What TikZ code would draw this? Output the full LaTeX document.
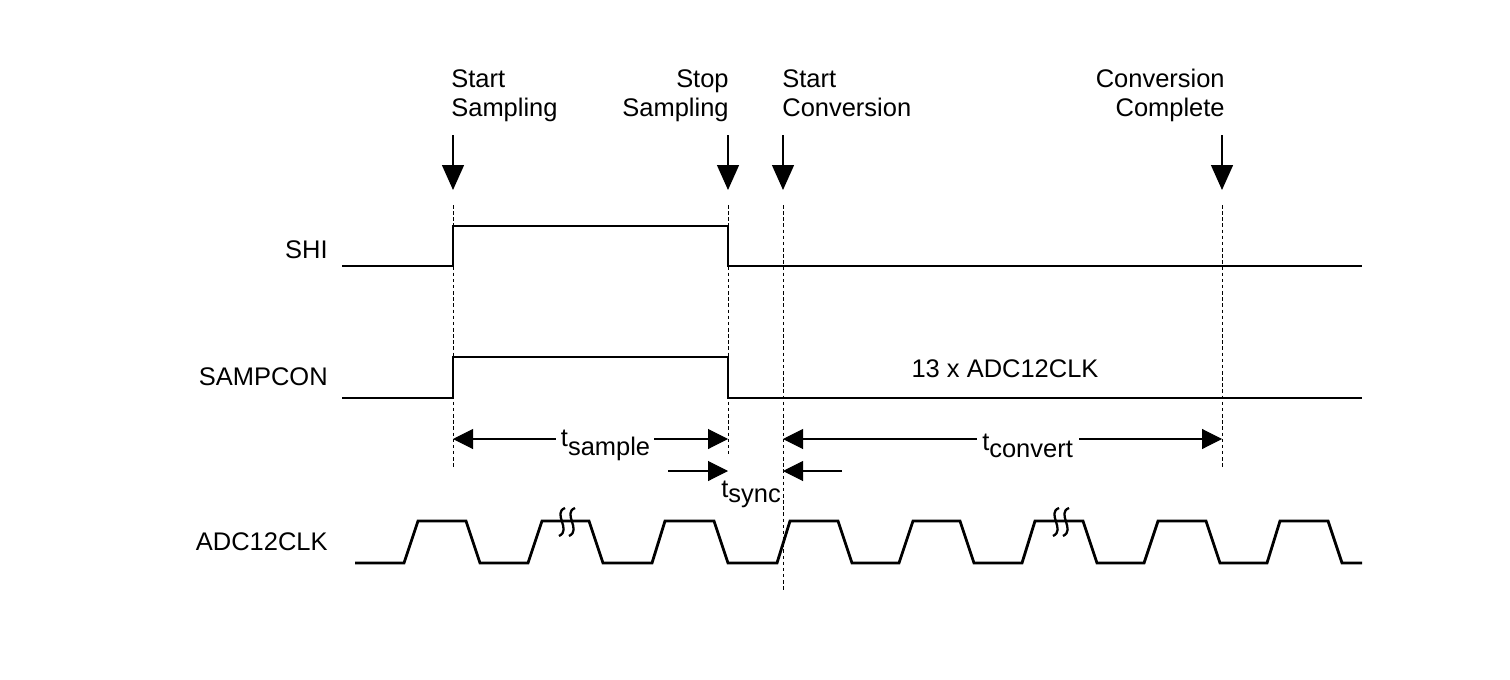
\documentclass[tikz,border=0pt]{standalone}
\usepackage{fontspec}
\setmainfont{Liberation Sans}
\usetikzlibrary{arrows.meta}
\begin{document}
\begin{tikzpicture}[x=0.02cm,y=-0.02cm,
  sig/.style={line width=1.6pt,line join=miter},
  guide/.style={dashed,line width=0.5pt,dash pattern=on 2pt off 1.5pt},
  evt/.style={line width=0.8pt,-{Triangle[length=0.5cm,width=0.44cm]}},
  dim/.style={line width=0.6pt,-{Triangle[length=0.4cm,width=0.4cm]}},
  lbl/.style={font=\fontsize{14.5}{16.5}\selectfont,inner sep=0pt,align=left},
  txt/.style={font=\fontsize{14.5}{17}\selectfont,inner sep=0pt}]
\useasboundingbox (0,0) rectangle (1510,679);
% guides
\draw[guide] (453,205) -- (453,467);
\draw[guide] (728,205) -- (728,455);
\draw[guide] (783,205) -- (783,590);
\draw[guide] (1222,205) -- (1222,467);
% event arrows
\foreach \n/\x in {a/453,b/728,c/783,d/1222}{
  \coordinate (\n0) at (\x,135); \coordinate (\n1) at (\x,190);
  \draw[evt] (\n0) -- (\n1);}
\node[lbl,anchor=north west] (lss) at (451,69) {Start\\Sampling};
\node[lbl,anchor=north east,align=right] (lsp) at (729,69) {Stop\\Sampling};
\node[lbl,anchor=north west] (lsc) at (782,69) {Start\\Conversion};
\node[lbl,anchor=north east,align=right] (lcc) at (1225,69) {Conversion\\Complete};
% signal names
\node[txt,anchor=base east] (nshi) at (328,258) {SHI};
\node[txt,anchor=base east] (nsam) at (328,385) {SAMPCON};
\node[txt,anchor=base east] (nclk) at (328,550) {ADC12CLK};
% SHI
\draw[sig] (342,266) -- (453,266) -- (453,226) -- (728,226) -- (728,266) -- (1362,266);
% SAMPCON
\draw[sig] (342,398) -- (453,398) -- (453,357) -- (728,357) -- (728,398) -- (1362,398);
\node[txt,anchor=base] (n13) at (1005,377) {13 x ADC12CLK};
% clock
\draw[sig] (355,563) -- (404,563) -- (418,521) -- (466,521) -- (480,563) -- (528,563) -- (542,521) -- (589,521) -- (603,563)
  -- (652,563) -- (665,521) -- (714,521) -- (728,563) -- (777,563) -- (790,521) -- (838,521) -- (852,563)
  -- (899,563) -- (913,521) -- (960,521) -- (974,563) -- (1022,563) -- (1035,521) -- (1083,521) -- (1097,563)
  -- (1144,563) -- (1158,521) -- (1206,521) -- (1220,563) -- (1267,563) -- (1280,521) -- (1328,521) -- (1342,563) -- (1362,563);
\foreach \x in {562,572,1056,1066}
  \draw[line width=1.3pt] (\x+3,508) .. controls (\x-10,513) and (\x+10,530) .. (\x-3,536);
% dimensions
\node[txt,anchor=base] (ts) at (606,446) {t\textsubscript{\fontsize{14.5}{17}\selectfont sample}};
\coordinate (tsl) at (453,439); \coordinate (tsr) at (728,439);
\draw[dim] (ts.west |- tsl) ++(-5,0) -- (tsl);
\draw[dim] (ts.east |- tsr) ++(3,0) -- (tsr);
\node[txt,anchor=base] (tc) at (1028,450) {t\textsubscript{\fontsize{14.5}{17}\selectfont convert}};
\coordinate (tcl) at (783,439); \coordinate (tcr) at (1222,439);
\draw[dim] (tc.west |- tcl) ++(-5,0) -- (tcl);
\draw[dim] (tc.east |- tcr) ++(5,0) -- (tcr);
\coordinate (y0) at (668,471); \coordinate (y1) at (728,471);
\coordinate (y2) at (842,471); \coordinate (y3) at (783,471);
\draw[dim] (y0) -- (y1);
\draw[dim] (y2) -- (y3);
\node[txt,anchor=base west] (ty) at (721,497) {t\textsubscript{\fontsize{14.5}{17}\selectfont sync}};
\end{tikzpicture}
\end{document}
